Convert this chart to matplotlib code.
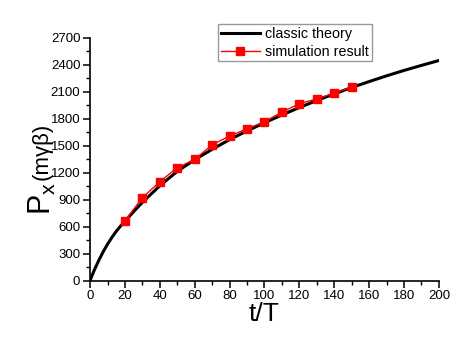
import numpy as np
import matplotlib
matplotlib.use("Agg")
import matplotlib.pyplot as plt
from matplotlib.ticker import MultipleLocator

plt.rcParams["font.family"] = ["Liberation Sans", "DejaVu Sans"]
plt.rcParams["mathtext.fontset"] = "custom"
plt.rcParams["mathtext.rm"] = "Liberation Sans"
plt.rcParams["mathtext.it"] = "Liberation Sans:italic"

# classic theory curve
t_theory = [0, 1, 2.5, 5, 7.5, 10, 12.5, 15, 17.5, 20, 25, 30, 40, 50, 60, 70, 80, 90, 100,
            110, 120, 130, 140, 150, 160, 170, 180, 190, 200]
p_theory = [0, 50, 120, 225, 320, 405, 480, 548, 607, 660, 768, 870, 1055, 1215, 1345, 1460,
            1568, 1665, 1755, 1842, 1925, 2003, 2077, 2147, 2213, 2277, 2337, 2393, 2447]

# simulation points
t_sim = [20, 30, 40, 50, 60, 70, 80, 90, 100, 110, 120, 130, 140, 150]
p_sim = [667, 922, 1100, 1256, 1348, 1511, 1607, 1689, 1767, 1874, 1967, 2022, 2085, 2152]

fig = plt.figure(figsize=(4.74, 3.53), dpi=100)
ax = fig.add_axes([0.19, 0.205, 0.736, 0.688])

ax.plot(t_theory, p_theory, color="black", lw=2.2, label="classic theory")
ax.plot(t_sim, p_sim, color="red", lw=1, marker="s", ms=6,
        mfc="red", mec="red", label="simulation result")

ax.set_xlim(0, 200)
ax.set_ylim(0, 2700)
ax.xaxis.set_major_locator(MultipleLocator(20))
ax.xaxis.set_minor_locator(MultipleLocator(10))
ax.yaxis.set_major_locator(MultipleLocator(300))
ax.yaxis.set_minor_locator(MultipleLocator(150))
ax.tick_params(which="major", direction="out", length=5, width=1.1, labelsize=9.5, pad=2)
ax.tick_params(which="minor", direction="out", length=3, width=1)
ax.spines["top"].set_visible(False)
ax.spines["right"].set_visible(False)
for s in ["left", "bottom"]:
    ax.spines[s].set_linewidth(1.2)

ax.set_xlabel("t/T", fontsize=19, labelpad=0)
# y label: big P_x, smaller (mγβ)
fig.text(42 / 474, (353 - 198) / 353, r"$\mathrm{P_x}$", fontsize=22,
         rotation=90, ha="center", va="center")
fig.text(42 / 474, (353 - 151) / 353, "(mγβ)", fontsize=16,
         rotation=90, ha="center", va="center")

leg = ax.legend(loc="upper left", bbox_to_anchor=(0.367, 1.056), fontsize=10.3,
                frameon=True, fancybox=False, edgecolor="gray", borderaxespad=0,
                handlelength=2.7, borderpad=0.2, labelspacing=0.25, handletextpad=0.4)
leg.get_frame().set_linewidth(1)

fig.savefig("out.png", dpi=100)
